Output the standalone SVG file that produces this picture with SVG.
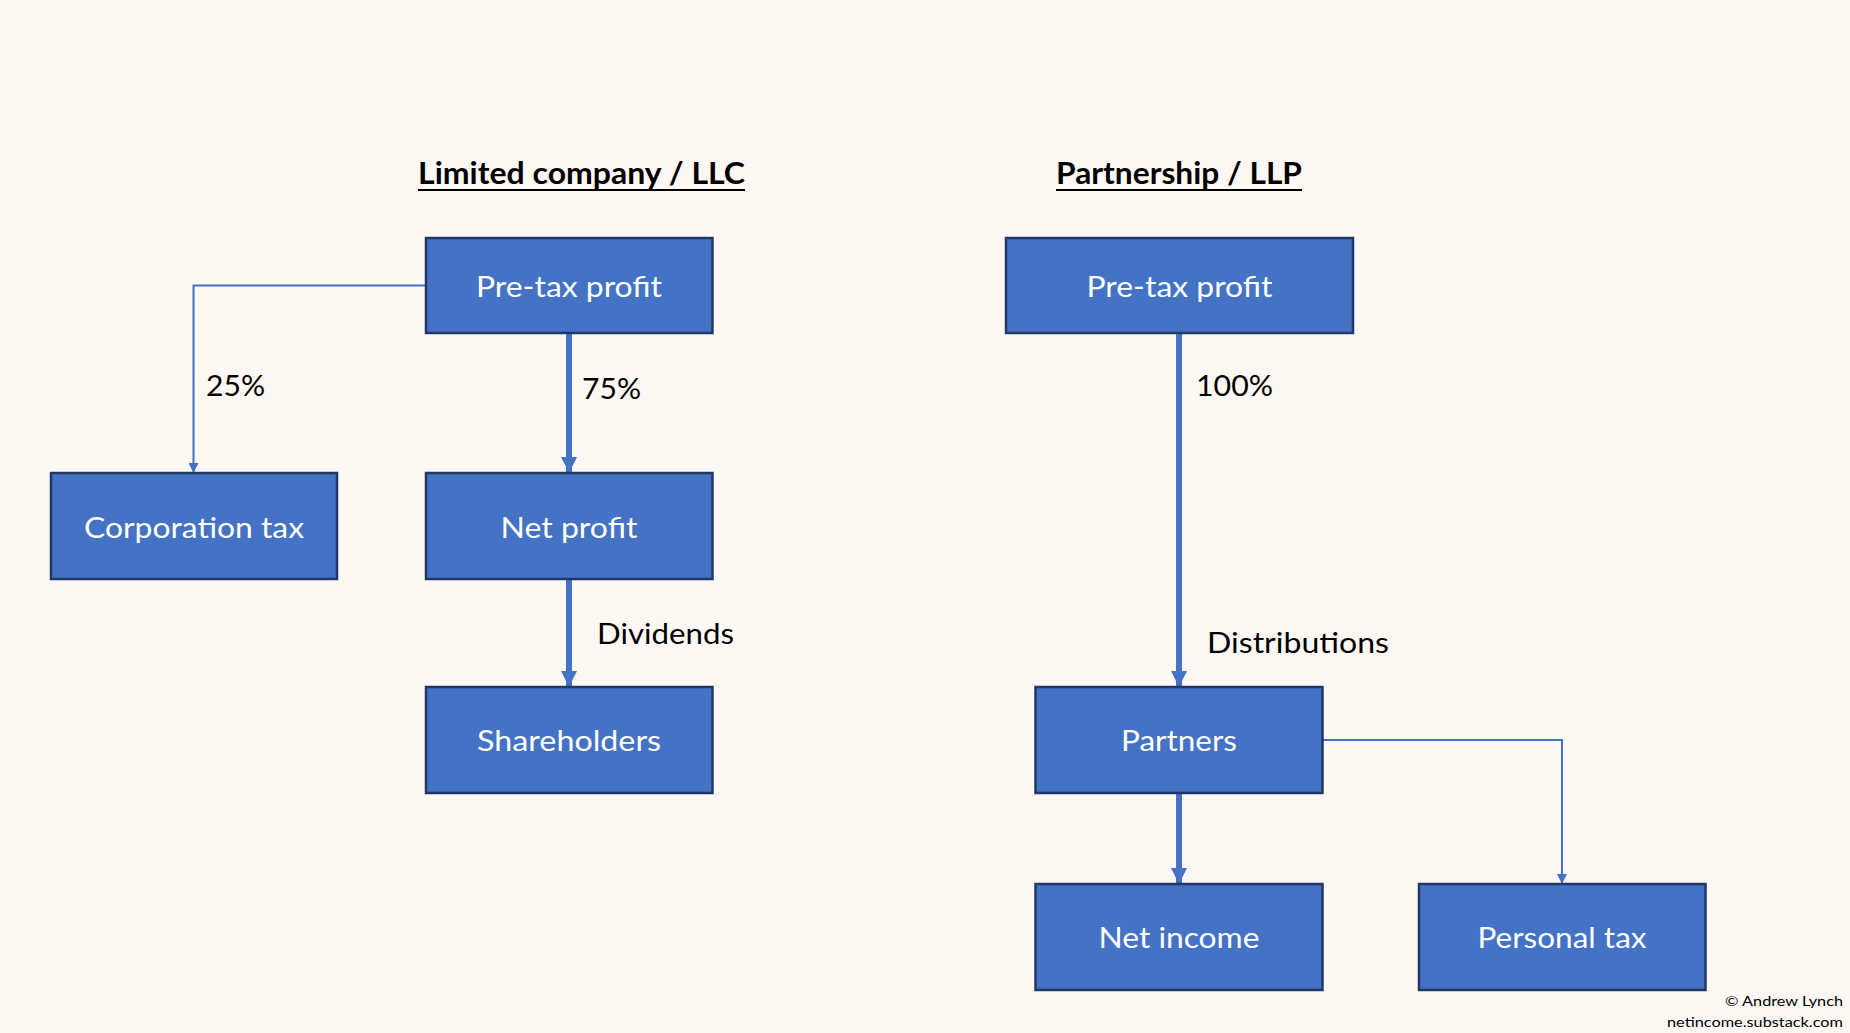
<svg xmlns="http://www.w3.org/2000/svg" width="1850" height="1033" viewBox="0 0 1850 1033">
<style>
.bg{fill:#FDF8F4}
.node rect{fill:#4472C4;stroke:#1F3864;stroke-width:2.5}
.node text{fill:#FFFFFF;font-family:Lato,"Open Sans","Liberation Sans",sans-serif;font-size:28px;text-anchor:middle}
.lbl{fill:#000;font-family:Lato,"Open Sans","Liberation Sans",sans-serif;font-size:28px}
.title{fill:#000;font-family:Lato,"Open Sans","Liberation Sans",sans-serif;font-size:30px;font-weight:bold}
.foot{fill:#000;font-family:Lato,"Open Sans","Liberation Sans",sans-serif;font-size:14px;text-anchor:end}
.thick{stroke:#4472C4;stroke-width:6;fill:none}
.thin{stroke:#4472C4;stroke-width:2;fill:none}
.ul{stroke:#000;stroke-width:2}
</style>
<defs>
<marker id="ah" viewBox="0 0 10 10" refX="10" refY="5" markerUnits="userSpaceOnUse" markerWidth="17" markerHeight="16" orient="auto">
<path d="M0,0 L10,5 L0,10 Z" fill="#4472C4"/>
</marker>
<marker id="ahs" viewBox="0 0 10 10" refX="10" refY="5" markerUnits="userSpaceOnUse" markerWidth="11" markerHeight="10" orient="auto">
<path d="M0,0 L10,5 L0,10 Z" fill="#4472C4"/>
</marker>
</defs>
<rect class="bg" x="0" y="0" width="1850" height="1033"/>

<g id="titles">
<text class="title" x="418" y="184" textLength="327" lengthAdjust="spacingAndGlyphs">Limited company / LLC</text>
<line class="ul" x1="418" y1="190" x2="745" y2="190"/>
<text class="title" x="1056" y="184" textLength="246" lengthAdjust="spacingAndGlyphs">Partnership / LLP</text>
<line class="ul" x1="1056" y1="190" x2="1302" y2="190"/>
</g>

<g id="connectors">
<path class="thin" d="M426,285.5 H193.5 V473" marker-end="url(#ahs)"/>
<path class="thick" d="M569,333 V473" marker-end="url(#ah)"/>
<path class="thick" d="M569,579 V687" marker-end="url(#ah)"/>
<path class="thick" d="M1179,333 V687" marker-end="url(#ah)"/>
<path class="thick" d="M1179,793 V884" marker-end="url(#ah)"/>
<path class="thin" d="M1322.5,740 H1562 V884" marker-end="url(#ahs)"/>
<text class="lbl" x="206" y="396" textLength="59" lengthAdjust="spacingAndGlyphs">25%</text>
<text class="lbl" x="582" y="399" textLength="59" lengthAdjust="spacingAndGlyphs">75%</text>
<text class="lbl" x="1196" y="396" textLength="77" lengthAdjust="spacingAndGlyphs">100%</text>
<text class="lbl" x="597" y="644" textLength="137" lengthAdjust="spacingAndGlyphs">Dividends</text>
<text class="lbl" x="1207" y="653" textLength="182" lengthAdjust="spacingAndGlyphs">Distributions</text>
</g>

<g id="pretax-llc" class="node">
<rect x="426" y="238" width="286.5" height="95"/>
<text x="569" y="296.5" textLength="186" lengthAdjust="spacingAndGlyphs">Pre-tax profit</text>
</g>
<g id="corporation-tax" class="node">
<rect x="51" y="473" width="286" height="106"/>
<text x="194" y="537.5" textLength="220" lengthAdjust="spacingAndGlyphs">Corporation tax</text>
</g>
<g id="net-profit" class="node">
<rect x="426" y="473" width="286.5" height="106"/>
<text x="569" y="537.5" textLength="137" lengthAdjust="spacingAndGlyphs">Net profit</text>
</g>
<g id="shareholders" class="node">
<rect x="426" y="687" width="286.5" height="106"/>
<text x="569" y="751" textLength="184" lengthAdjust="spacingAndGlyphs">Shareholders</text>
</g>
<g id="pretax-llp" class="node">
<rect x="1006" y="238" width="347" height="95"/>
<text x="1179.5" y="296.5" textLength="186" lengthAdjust="spacingAndGlyphs">Pre-tax profit</text>
</g>
<g id="partners" class="node">
<rect x="1035.5" y="687" width="287" height="106"/>
<text x="1179" y="751" textLength="116" lengthAdjust="spacingAndGlyphs">Partners</text>
</g>
<g id="net-income" class="node">
<rect x="1035.5" y="884" width="287" height="106"/>
<text x="1179" y="948" textLength="161" lengthAdjust="spacingAndGlyphs">Net income</text>
</g>
<g id="personal-tax" class="node">
<rect x="1419" y="884" width="286.5" height="106"/>
<text x="1562" y="948" textLength="169" lengthAdjust="spacingAndGlyphs">Personal tax</text>
</g>

<g id="footer">
<text class="foot" x="1843" y="1005.5" textLength="118" lengthAdjust="spacingAndGlyphs">© Andrew Lynch</text>
<text class="foot" x="1843" y="1026.5" textLength="176" lengthAdjust="spacingAndGlyphs">netincome.substack.com</text>
</g>
</svg>
